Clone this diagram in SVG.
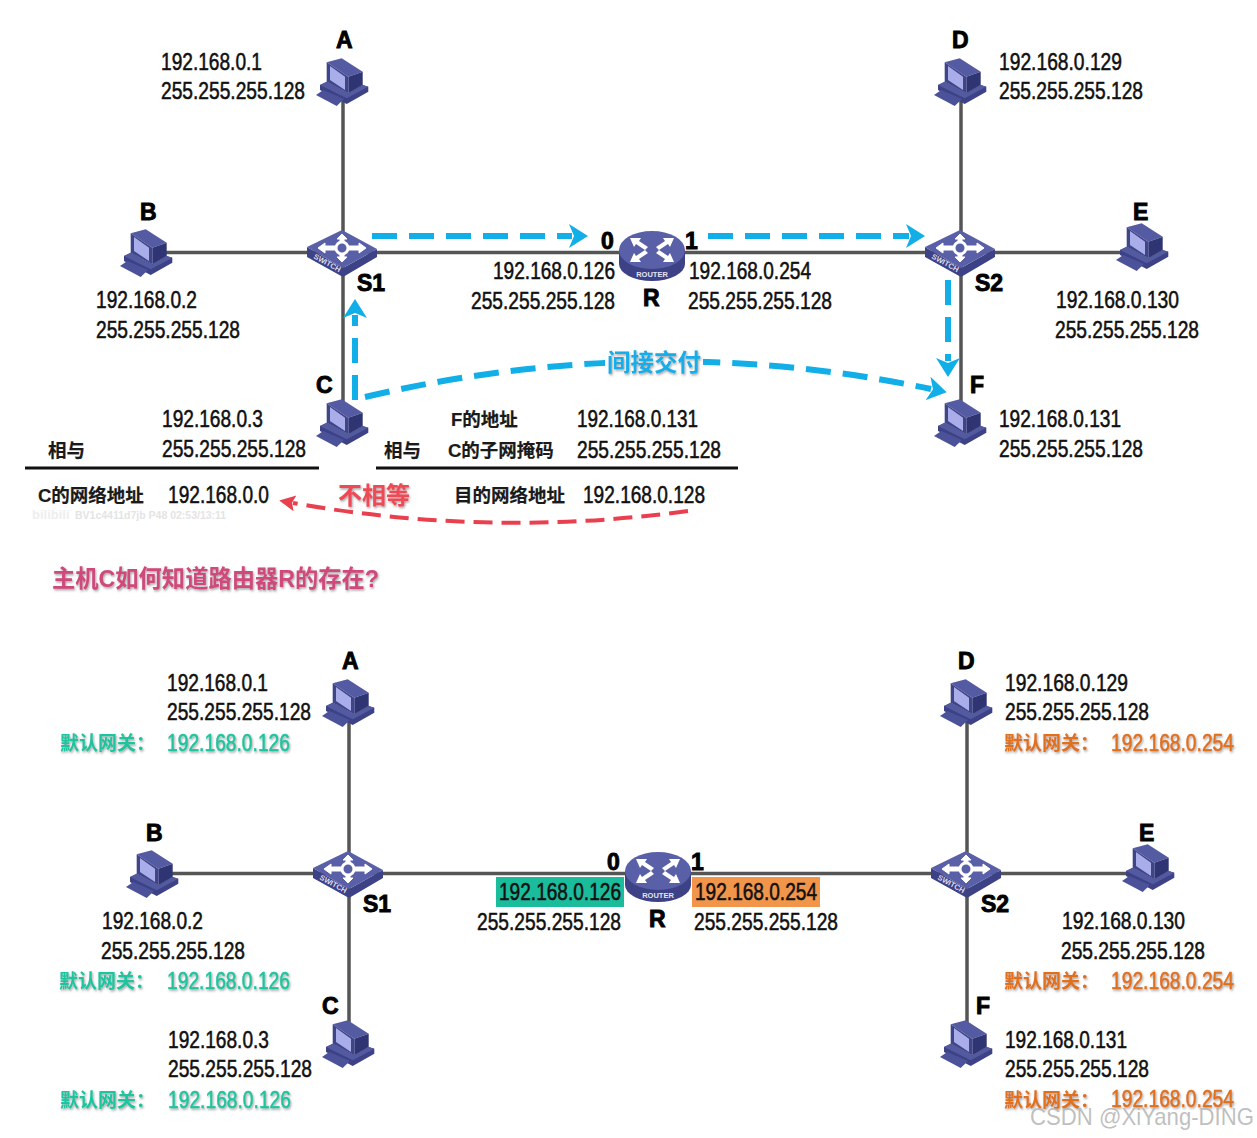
<svg xmlns="http://www.w3.org/2000/svg" width="1257" height="1138" viewBox="0 0 1257 1138">
<style>
text{font-family:"Liberation Sans","Noto Sans CJK SC",sans-serif}
.ip{font-size:24px;fill:#111;stroke:#111;stroke-width:.55}
.nm{font-size:23px;font-weight:bold;fill:#000;stroke:#000;stroke-width:.9}
.cn{font-size:18.500px;font-weight:bold;fill:#1a1a1a;stroke:#1a1a1a;stroke-width:.2}
.gt{font-size:19px;font-weight:bold;fill:#1cc4a0;filter:url(#sh)}
.go{font-size:19px;font-weight:bold;fill:#e0701f;filter:url(#sh)}
.gi{font-size:24px;fill:#1cc4a0;stroke:#1cc4a0;stroke-width:.5;filter:url(#sh)}
.gj{font-size:24px;fill:#e0701f;stroke:#e0701f;stroke-width:.5;filter:url(#sh)}
.wire{fill:none;stroke:#555;stroke-width:3.500}
.blue{fill:none;stroke:#12aee8;stroke-width:6;stroke-dasharray:25 12;marker-end:url(#ab)}
.rule{stroke:#111;stroke-width:3}
</style>
<defs>
<filter id="sh" x="-10%" y="-20%" width="120%" height="150%"><feDropShadow dx="1" dy="1.500" stdDeviation="1" flood-color="#555" flood-opacity=".55"/></filter>
<marker id="ab" markerUnits="userSpaceOnUse" markerWidth="22" markerHeight="26" refX="3" refY="13" orient="auto"><path d="M0 1L19 13L0 25L5 13Z" fill="#12aee8"/></marker>
<marker id="ar" markerUnits="userSpaceOnUse" markerWidth="20" markerHeight="20" refX="2" refY="10" orient="auto"><path d="M0 2L16 10L0 18L3 10Z" fill="#e8404f"/></marker>
<g id="pc">
<path d="M-23 2L-16.300-1.300L5.300 10.300L19.700 2L25.300 3.700V8.700L3.700 21L-23 7Z" fill="#3c4285"/>
<path d="M-23 2L-16.300-1.300L5.300 10.300L19.700 2L25.300 3.700L3.700 15.300Z" fill="#535aa0"/>
<path d="M-16.300-20.700L-1.300-24.700L19.700-11.300L5.300-6.300Z" fill="#555ba3"/>
<path d="M5.300-6.300L19.700-11.300V2L5.300 10.300Z" fill="#2f3473"/>
<path d="M-16.300-20.700L5.300-6.300V10.300L-16.300-1.300Z" fill="#3f4589"/>
<path d="M-13-17L2-6.300V7L-13-3Z" fill="#a9aeea"/>
<path d="M-27 12L-19.700 7L1 16L-6.300 23Z" fill="#4c5299"/>
</g>
<g id="sw">
<path d="M-36-5V5L0 25L34 5V-3L0 16Z" fill="#3c4285"/>
<path d="M-36-5L-1-22L34-3L0 16Z" fill="#5a60a8"/>
<circle cx="-1" cy="-4" r="6" fill="none" stroke="#fff" stroke-width="3"/>
<path d="M-1-18L-6-13H-3V-10H1V-13H4ZM-1 10L-6 5H-3V2H1V5H4ZM-25-4L-18-9V-6H-7V-2H-18V1ZM23-4L16-9V-6H5V-2H16V1Z" fill="#fff" stroke="#fff" stroke-width="1"/>
<text transform="translate(-30 6) rotate(29)" font-size="7.500" font-weight="bold" fill="#dde">SWITCH</text>
</g>
<g id="rt">
<path d="M-33-2V12A33 17 0 0 0 33 12V-2Z" fill="#3c4285"/>
<ellipse cx="0" cy="-2" rx="33" ry="19" fill="#5a60a8"/>
<path d="M-22-14L-11-14L-13-11L-4-5L-7-2L-16-8L-18-5ZM22-14L11-14L13-11L4-5L7-2L16-8L18-5ZM-22 10L-11 10L-13 7L-4 1L-7-2L-16 4L-18 1ZM22 10L11 10L13 7L4 1L7-2L16 4L18 1Z" fill="#fff"/>
<text x="0" y="25" text-anchor="middle" font-size="7.500" font-weight="bold" fill="#e4e4f4">ROUTER</text>
</g>
</defs>
<rect width="1257" height="1138" fill="#fff"/>

<g id="connectors">
<path class="wire" d="M343 100V410M165 252.500H620M685 252.500H1120M961 100V410"/>
<path class="wire" d="M349 721V1031M171 873.500H626M691 873.500H1126M967 721V1031"/>
<path class="blue" d="M372 236H572"/>
<path class="blue" d="M708 236H909"/>
<path class="blue" d="M948 280V361"/>
<path class="blue" d="M355 400V315"/>
<path class="blue" d="M365 397Q650 330 931 389"/>
<path fill="none" stroke="#e8404f" stroke-width="4" stroke-dasharray="19 9" marker-end="url(#ar)" d="M688 511Q490 538 293 503"/>
<path class="rule" d="M25 468H319M376 468H738"/>
</g>

<g id="top-A"><use href="#pc" x="343" y="83"/><text class="nm" x="336" y="48">A</text><text class="ip" x="161" y="70" textLength="101" lengthAdjust="spacingAndGlyphs">192.168.0.1</text><text class="ip" x="161" y="99" textLength="144" lengthAdjust="spacingAndGlyphs">255.255.255.128</text></g>
<g id="top-B"><use href="#pc" x="147" y="254"/><text class="nm" x="140" y="220">B</text><text class="ip" x="96" y="308" textLength="101" lengthAdjust="spacingAndGlyphs">192.168.0.2</text><text class="ip" x="96" y="338" textLength="144" lengthAdjust="spacingAndGlyphs">255.255.255.128</text></g>
<g id="top-C"><use href="#pc" x="343" y="424"/><text class="nm" x="316" y="393">C</text><text class="ip" x="162" y="427" textLength="101" lengthAdjust="spacingAndGlyphs">192.168.0.3</text><text class="ip" x="162" y="457" textLength="144" lengthAdjust="spacingAndGlyphs">255.255.255.128</text></g>
<g id="top-D"><use href="#pc" x="961" y="83"/><text class="nm" x="952" y="48">D</text><text class="ip" x="999" y="70" textLength="123" lengthAdjust="spacingAndGlyphs">192.168.0.129</text><text class="ip" x="999" y="99" textLength="144" lengthAdjust="spacingAndGlyphs">255.255.255.128</text></g>
<g id="top-E"><use href="#pc" x="1143" y="248"/><text class="nm" x="1133" y="220">E</text><text class="ip" x="1056" y="308" textLength="123" lengthAdjust="spacingAndGlyphs">192.168.0.130</text><text class="ip" x="1055" y="338" textLength="144" lengthAdjust="spacingAndGlyphs">255.255.255.128</text></g>
<g id="top-F"><use href="#pc" x="961" y="424"/><text class="nm" x="970" y="393">F</text><text class="ip" x="999" y="427" textLength="122" lengthAdjust="spacingAndGlyphs">192.168.0.131</text><text class="ip" x="999" y="457" textLength="144" lengthAdjust="spacingAndGlyphs">255.255.255.128</text></g>
<g id="top-S1"><use href="#sw" x="343" y="252"/><text class="nm" x="357" y="291">S1</text></g>
<g id="top-S2"><use href="#sw" x="961" y="252"/><text class="nm" x="975" y="291">S2</text></g>
<g id="top-R"><use href="#rt" x="652" y="252"/><text class="nm" x="643" y="306">R</text><text class="nm" x="601" y="249">0</text><text class="nm" x="685" y="249">1</text><text class="ip" x="493" y="279" textLength="122" lengthAdjust="spacingAndGlyphs">192.168.0.126</text><text class="ip" x="471" y="309" textLength="144" lengthAdjust="spacingAndGlyphs">255.255.255.128</text><text class="ip" x="689" y="279" textLength="122" lengthAdjust="spacingAndGlyphs">192.168.0.254</text><text class="ip" x="688" y="309" textLength="144" lengthAdjust="spacingAndGlyphs">255.255.255.128</text></g>

<g id="calc">
<text class="cn" x="48" y="457">相与</text>
<text class="cn" x="384" y="457">相与</text>
<text class="cn" x="451" y="426">F的地址</text>
<text class="cn" x="448" y="457">C的子网掩码</text>
<text class="ip" x="577" y="427" textLength="121" lengthAdjust="spacingAndGlyphs">192.168.0.131</text>
<text class="ip" x="577" y="458" textLength="144" lengthAdjust="spacingAndGlyphs">255.255.255.128</text>
<text class="cn" x="38" y="502">C的网络地址</text>
<text class="ip" x="168" y="503" textLength="101" lengthAdjust="spacingAndGlyphs">192.168.0.0</text>
<text class="cn" x="454" y="502">目的网络地址</text>
<text class="ip" x="583" y="503" textLength="122" lengthAdjust="spacingAndGlyphs">192.168.0.128</text>
<text x="338" y="504" font-size="24" font-weight="bold" fill="#ee4a55" filter="url(#sh)">不相等</text>
<rect x="605" y="348" width="98" height="28" fill="#fff"/>
<text x="607" y="371" font-size="23.500" font-weight="bold" fill="#12aee8" filter="url(#sh)">间接交付</text>
<text x="32" y="519" font-size="13" font-weight="bold" fill="#eeeeee">bilibili</text>
<text x="75" y="519" font-size="10.500" font-weight="bold" fill="#e4e4e4">BV1c4411d7jb P48 02:53/13:11</text>
<text x="52" y="587" font-size="24" font-weight="bold" fill="#cf4a7c" filter="url(#sh)" textLength="327" lengthAdjust="spacingAndGlyphs">主机C如何知道路由器R的存在?</text>
</g>

<g id="bot-A"><use href="#pc" x="349" y="704"/><text class="nm" x="342" y="669">A</text><text class="ip" x="167" y="691" textLength="101" lengthAdjust="spacingAndGlyphs">192.168.0.1</text><text class="ip" x="167" y="720" textLength="144" lengthAdjust="spacingAndGlyphs">255.255.255.128</text><text class="gt" x="60" y="750">默认网关：</text><text class="gi" x="167" y="751" textLength="123" lengthAdjust="spacingAndGlyphs">192.168.0.126</text></g>
<g id="bot-B"><use href="#pc" x="153" y="875"/><text class="nm" x="146" y="841">B</text><text class="ip" x="102" y="929" textLength="101" lengthAdjust="spacingAndGlyphs">192.168.0.2</text><text class="ip" x="101" y="959" textLength="144" lengthAdjust="spacingAndGlyphs">255.255.255.128</text><text class="gt" x="59" y="988">默认网关：</text><text class="gi" x="167" y="989" textLength="123" lengthAdjust="spacingAndGlyphs">192.168.0.126</text></g>
<g id="bot-C"><use href="#pc" x="349" y="1045"/><text class="nm" x="322" y="1014">C</text><text class="ip" x="168" y="1048" textLength="101" lengthAdjust="spacingAndGlyphs">192.168.0.3</text><text class="ip" x="168" y="1077" textLength="144" lengthAdjust="spacingAndGlyphs">255.255.255.128</text><text class="gt" x="60" y="1107">默认网关：</text><text class="gi" x="168" y="1108" textLength="123" lengthAdjust="spacingAndGlyphs">192.168.0.126</text></g>
<g id="bot-D"><use href="#pc" x="967" y="704"/><text class="nm" x="958" y="669">D</text><text class="ip" x="1005" y="691" textLength="123" lengthAdjust="spacingAndGlyphs">192.168.0.129</text><text class="ip" x="1005" y="720" textLength="144" lengthAdjust="spacingAndGlyphs">255.255.255.128</text><text class="go" x="1004" y="750">默认网关：</text><text class="gj" x="1111" y="751" textLength="123" lengthAdjust="spacingAndGlyphs">192.168.0.254</text></g>
<g id="bot-E"><use href="#pc" x="1149" y="869"/><text class="nm" x="1139" y="841">E</text><text class="ip" x="1062" y="929" textLength="123" lengthAdjust="spacingAndGlyphs">192.168.0.130</text><text class="ip" x="1061" y="959" textLength="144" lengthAdjust="spacingAndGlyphs">255.255.255.128</text><text class="go" x="1004" y="988">默认网关：</text><text class="gj" x="1111" y="989" textLength="123" lengthAdjust="spacingAndGlyphs">192.168.0.254</text></g>
<g id="bot-F"><use href="#pc" x="967" y="1045"/><text class="nm" x="976" y="1014">F</text><text class="ip" x="1005" y="1048" textLength="122" lengthAdjust="spacingAndGlyphs">192.168.0.131</text><text class="ip" x="1005" y="1077" textLength="144" lengthAdjust="spacingAndGlyphs">255.255.255.128</text><text class="go" x="1004" y="1107">默认网关：</text><text class="gj" x="1111" y="1107" textLength="123" lengthAdjust="spacingAndGlyphs">192.168.0.254</text></g>
<g id="bot-S1"><use href="#sw" x="349" y="873"/><text class="nm" x="363" y="912">S1</text></g>
<g id="bot-S2"><use href="#sw" x="967" y="873"/><text class="nm" x="981" y="912">S2</text></g>
<g id="bot-R"><rect x="496" y="877" width="128" height="30" fill="#1abc9c"/><rect x="692" y="877" width="128" height="30" fill="#f0954a"/><use href="#rt" x="658" y="873"/><text class="nm" x="649" y="927">R</text><text class="nm" x="607" y="870">0</text><text class="nm" x="691" y="870">1</text><text class="ip" x="499" y="900" textLength="122" lengthAdjust="spacingAndGlyphs">192.168.0.126</text><text class="ip" x="477" y="930" textLength="144" lengthAdjust="spacingAndGlyphs">255.255.255.128</text><text class="ip" x="695" y="900" textLength="122" lengthAdjust="spacingAndGlyphs">192.168.0.254</text><text class="ip" x="694" y="930" textLength="144" lengthAdjust="spacingAndGlyphs">255.255.255.128</text></g>
<text x="1030" y="1125" font-size="24" fill="#b4b4b4" fill-opacity=".85" textLength="224" lengthAdjust="spacingAndGlyphs">CSDN @XiYang-DING</text>
</svg>
